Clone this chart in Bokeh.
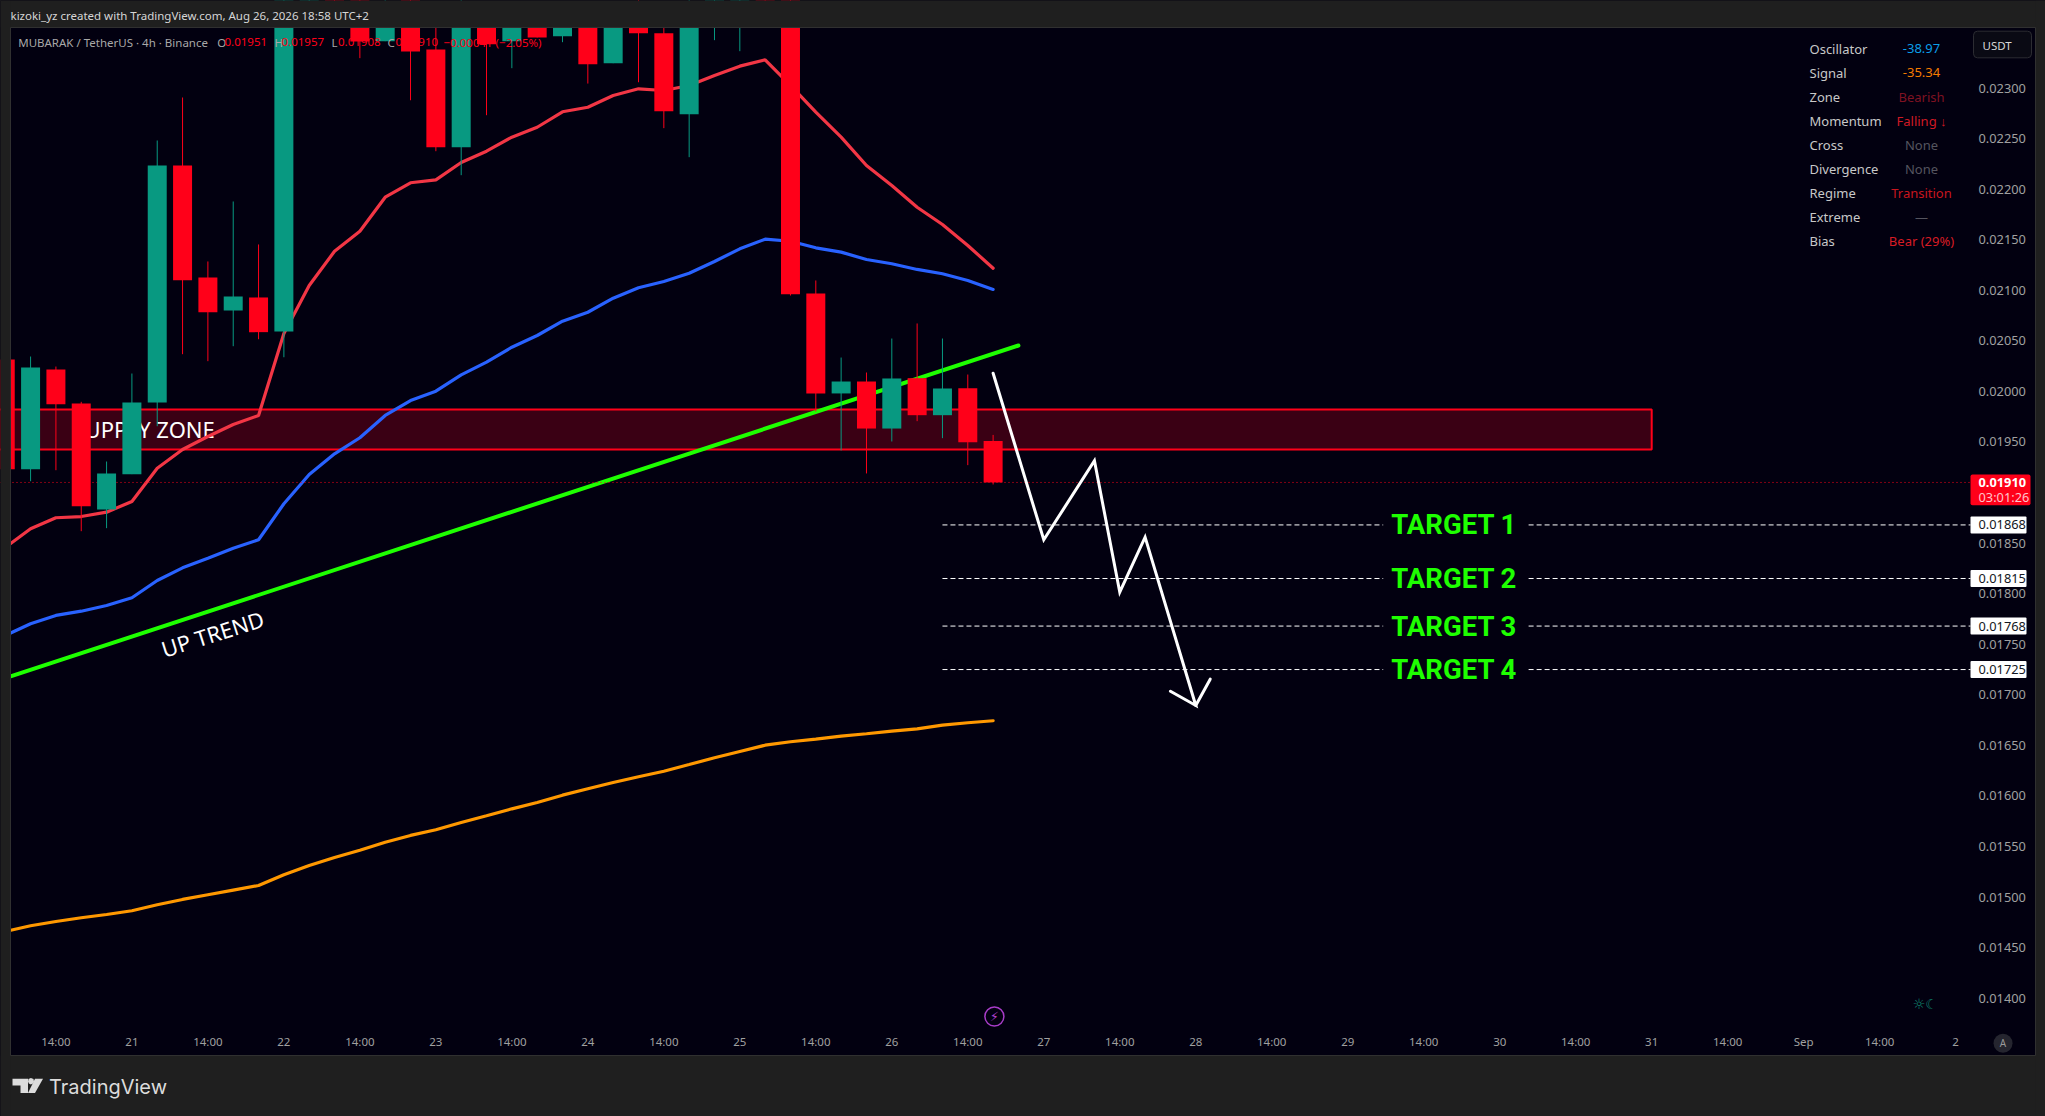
from bokeh.plotting import figure
from bokeh.embed import file_html
from bokeh.resources import INLINE
from bokeh.models import Label, BoxAnnotation, PolyAnnotation, FixedTicker, NumeralTickFormatter, Range1d
from bokeh.core.properties import value

# ---- data (prices; bar index 0 = Aug 21, 6 bars per day) ----
bar_idx = list(range(-5, 35))
opens = [0.020316,0.019231,0.020217,0.019881,0.018833,0.019182,0.019891,0.022234,0.021126,0.020800,
         0.020929,0.020593,0.024000,0.024400,0.024000,0.023463,0.023900,0.023381,0.022415,0.023750,
         0.023463,0.023750,0.023512,0.023720,0.023245,0.023800,0.023542,0.022741,0.023900,0.023950,
         0.024250,0.024000,0.020968,0.019980,0.020098,0.019633,0.020131,0.019765,0.020032,0.019510]
highs = [0.020350,0.020345,0.020246,0.019897,0.019307,0.020177,0.022481,0.022906,0.021285,0.021878,
         0.021453,0.024150,0.024500,0.024500,0.024200,0.024000,0.024000,0.023700,0.023900,0.023850,
         0.023850,0.023850,0.023800,0.023800,0.023850,0.023900,0.023750,0.023950,0.024200,0.024300,
         0.024350,0.024100,0.021097,0.020335,0.020187,0.020523,0.020672,0.020523,0.020167,0.019570]
lows = [0.019200,0.019112,0.019221,0.018618,0.018648,0.019182,0.019656,0.020368,0.020299,0.020447,
        0.020516,0.020338,0.023800,0.023850,0.023295,0.023463,0.022879,0.022375,0.022138,0.022731,
        0.023196,0.023499,0.023453,0.023044,0.023245,0.023057,0.022603,0.022316,0.023473,0.023364,
        0.023800,0.020948,0.019802,0.019416,0.019189,0.019505,0.019706,0.019538,0.019271,0.019080]
closes = [0.019231,0.020237,0.019874,0.018865,0.019189,0.019891,0.022234,0.021100,0.020783,0.020939,
          0.020586,0.024000,0.024400,0.024000,0.023460,0.023850,0.023361,0.022415,0.023800,0.023433,
          0.023750,0.023499,0.023720,0.023235,0.023750,0.023542,0.022771,0.023850,0.024100,0.024200,
          0.024000,0.020961,0.019980,0.020098,0.019633,0.020128,0.019765,0.020029,0.019498,0.019100]

ma_x = list(range(-5, 35))
ma_red = [0.018457,0.018642,0.018751,0.018763,0.018806,0.018912,0.019241,0.019426,0.019554,0.019673,
          0.019762,0.020573,0.021047,0.021386,0.021584,0.021920,0.022063,0.022092,0.022263,0.022375,
          0.022514,0.022612,0.022765,0.022810,0.022926,0.022992,0.022975,0.023025,0.023124,0.023216,
          0.023279,0.023025,0.022761,0.022514,0.022234,0.022036,0.021821,0.021650,0.021443,0.021218]
ma_blue = [0.017587,0.017703,0.017785,0.017827,0.017883,0.017960,0.018131,0.018256,0.018351,0.018450,
           0.018533,0.018889,0.019179,0.019383,0.019542,0.019762,0.019910,0.020002,0.020164,0.020289,
           0.020437,0.020553,0.020694,0.020783,0.020922,0.021025,0.021087,0.021169,0.021285,0.021410,
           0.021505,0.021485,0.021420,0.021377,0.021304,0.021262,0.021206,0.021163,0.021097,0.021008]
ma_orange = [0.014660,0.014717,0.014759,0.014796,0.014828,0.014865,0.014924,0.014977,0.015023,0.015069,
             0.015115,0.015221,0.015313,0.015392,0.015464,0.015543,0.015610,0.015666,0.015738,0.015804,
             0.015873,0.015936,0.016008,0.016071,0.016133,0.016190,0.016245,0.016311,0.016378,0.016440,
             0.016502,0.016536,0.016562,0.016591,0.016615,0.016641,0.016664,0.016700,0.016724,0.016744]

trend_x = [-4.79, 35.0]
trend_y = [0.017182, 0.020454]
zone_x = [-6, 60]
zone_top, zone_bottom = 0.019821, 0.019426
zig_x = [34, 36, 38, 39, 40, 42, 41]
zig_y = [0.020180,0.018533,0.019314,0.018015,0.018559,0.016895,0.017036]
wing_x = [42, 42.57]
wing_y = [0.016895, 0.017155]
targets = [0.01868, 0.01815, 0.01768, 0.01725]
target_names = ["TARGET 1", "TARGET 2", "TARGET 3", "TARGET 4"]
target_tags = ["0.01868", "0.01815", "0.01768", "0.01725"]
last_price = 0.01910

y_ticks = [0.014 + 0.0005 * k for k in range(19)]
x_ticks = [-3,0,3,6,9,12,15,18,21,24,27,30,33,36,39,42,45,48,51,54,57,60,63,66,69,72]
x_labels = ["14:00","21","14:00","22","14:00","23","14:00","24","14:00","25","14:00","26","14:00","27","14:00",
            "28","14:00","29","14:00","30","14:00","31","14:00","Sep","14:00","2"]

table_names = ["Oscillator","Signal","Zone","Momentum","Cross","Divergence","Regime","Extreme","Bias"]
table_vals = ["-38.97","-35.34","Bearish","Falling ↓","None","None","Transition","—","Bear (29%)"]
table_cols = ["#0a9ee8","#f57c00","#7f1222","#d01a24","#55555f","#55555f","#c8161e","#55555f","#d81c24"]

# ---- style ----
BG = "#020010"; OUT = "#1f1f1f"; RED = "#ff0019"; TEAL = "#089981"
FONT = "Noto Sans"
W, H = 2045, 1116
CL, CR, CT, CB = 10, 2035, 27, 1055     # chart panel edges on the page
PX_BAR = 25.33; X0 = 131.4
PX_PRICE = 101140.0; Y0 = 87.5

x_start = (0 - X0) / PX_BAR; x_end = (W - X0) / PX_BAR
y_end = 0.023 + (Y0 - 0) / PX_PRICE; y_start = 0.023 - (H - Y0) / PX_PRICE

p = figure(width=W, height=H, output_backend="svg", toolbar_location=None,
           x_range=Range1d(x_start, x_end), y_range=Range1d(y_start, y_end),
           y_axis_location="right", background_fill_color=BG, border_fill_color=OUT,
           min_border_left=0, min_border_right=0, min_border_top=0, min_border_bottom=0,
           outline_line_color=None)
p.grid.visible = False

ya = p.yaxis[0]
ya.fixed_location = (1970 - X0) / PX_BAR
ya.ticker = FixedTicker(ticks=y_ticks)
ya.formatter = NumeralTickFormatter(format="0.00000")
ya.major_label_standoff = 2
xa = p.xaxis[0]
xa.fixed_location = 0.023 - (1024 - Y0) / PX_PRICE
xa.ticker = FixedTicker(ticks=x_ticks)
xa.major_label_overrides = dict(zip(x_ticks, x_labels))
xa.major_label_standoff = 3
for a in (ya, xa):
    a.axis_line_color = None
    a.major_tick_line_color = None
    a.minor_tick_line_color = None
    a.major_label_text_color = "#a0a0a0"
    a.major_label_text_font = FONT
ya.major_label_text_font_size = "12.8px"
xa.major_label_text_font_size = "11.5px"

# zone + its text sit under the candles
p.quad(left=[zone_x[0]], right=[zone_x[1]], top=[zone_top], bottom=[zone_bottom],
       fill_color="#3a0014", line_color=RED, line_width=2)
p.text(x=[(72 - X0) / PX_BAR], y=[(zone_top + zone_bottom) / 2], text=["SUPPLY ZONE"], text_color="white",
       text_font=value(FONT), text_font_size="22px", text_baseline="middle")

p.line(ma_x, ma_orange, line_color="#ff9800", line_width=3.2, line_cap="round")
p.line(ma_x, ma_blue, line_color="#2962ff", line_width=3.2, line_cap="round")
p.line(ma_x, ma_red, line_color="#f23645", line_width=3.2, line_cap="round")
p.line(trend_x, trend_y, line_color="#1eff00", line_width=4, line_cap="round")

p.line([x_start, (1970 - X0) / PX_BAR], [last_price, last_price], line_color=RED, line_width=1, line_dash="1 3")

up = [c >= o for o, c in zip(opens, closes)]
cols = [TEAL if u else RED for u in up]
p.segment(bar_idx, lows, bar_idx, highs, line_color=cols, line_width=1)
p.vbar(x=bar_idx, top=[max(o, c) for o, c in zip(opens, closes)], bottom=[min(o, c) for o, c in zip(opens, closes)],
       width=0.75, fill_color=cols, line_color=None)

# target levels
for lvl, name in zip(targets, target_names):
    p.line([32.0, 49.4], [lvl, lvl], line_color="white", line_width=1, line_dash="5 3")
    p.line([55.14, (1970 - X0) / PX_BAR], [lvl, lvl], line_color="white", line_width=1, line_dash="5 3")
    p.text(x=[52.2], y=[lvl], text=[name], text_color="#1eff00", text_font=value("Roboto"), text_font_style="bold",
           text_font_size="27.5px", text_align="center", text_baseline="middle")

# forecast arrow
p.line(zig_x, zig_y, line_color="white", line_width=3, line_cap="round", line_join="miter")
p.line(wing_x, wing_y, line_color="white", line_width=3, line_cap="round")

p.text(x=[3.18], y=[0.017607], text=["UP TREND"], angle=[0.305], text_color="white", text_font=value(FONT),
       text_font_size="22px", text_align="center", text_baseline="middle")

# small icons
p.scatter(x=[34.05], y=[0.01382], size=19, marker="circle", fill_color=None, line_color="#a83cc8", line_width=1.5)
p.text(x=[34.05], y=[0.01382], text=["⚡"], text_color="#b040d0", text_font=value("DejaVu Sans"), text_font_size="13px",
       text_align="center", text_baseline="middle")
p.text(x=[70.8], y=[0.01394], text=["☼☾"], text_color="#0f8a72", text_font=value("DejaVu Sans"), text_font_size="14px",
       text_align="center", text_baseline="middle")
p.scatter(x=[73.87], y=[0.013556], size=19, marker="circle", fill_color="#25252f", line_color=None)
p.text(x=[73.87], y=[0.013556], text=["A"], text_color="#9a9a9a", text_font=value(FONT), text_font_size="10px",
       text_align="center", text_baseline="middle")

def lab(px, py, txt, col, size, align="left", style="normal", font=FONT):
    p.add_layout(Label(x=px, y=H - py, x_units="screen", y_units="screen", text=txt, text_color=col,
                       text_font_size=f"{size}px", text_align=align, text_baseline="middle", text_font=font,
                       text_font_style=style))

def box(x1, x2, y1, y2, fill, line=None, radius=0):
    p.add_layout(BoxAnnotation(left=x1, right=x2, top=H - y1, bottom=H - y2,
                               left_units="screen", right_units="screen", top_units="screen", bottom_units="screen",
                               fill_color=fill, fill_alpha=1 if fill else 0, line_color=line, line_alpha=1 if line else 0,
                               border_radius=radius))

def poly(pts, fill):
    p.add_layout(PolyAnnotation(xs=[a for a, _ in pts], ys=[H - b for _, b in pts], xs_units="screen", ys_units="screen",
                                fill_color=fill, fill_alpha=1, line_color=None))

# outer page band round the chart panel (masks candles that run off the panel)
box(0, W, 0, CT, OUT)
box(0, W, CB, H, OUT)
box(0, CL, 0, H, OUT)
box(CR, W, 0, H, OUT)
box(CL, CR, CT, CB, None, "#303030")

# page header + symbol legend
lab(10, 15, "kizoki_yz created with TradingView.com, Aug 26, 2026 18:58 UTC+2", "#d6d6d6", 11.5)
lab(17.7, 41.7, "MUBARAK / TetherUS · 4h · Binance", "#a8a8a8", 11.5)
for x, k, v, vx in [(216.7, "O", "0.01951", 224), (274, "H", "0.01957", 281), (331, "L", "0.01908", 337.5), (387, "C", "0.01910", 395)]:
    lab(x, 41.7, k, "#a8a8a8", 11.5)
    lab(vx, 41.7, v, RED, 11.5)
lab(443, 41.7, "−0.00041 (−2.05%)", RED, 11.5)

# indicator table
for k, (n, v, c) in enumerate(zip(table_names, table_vals, table_cols)):
    yy = 48.3 + 24 * k
    lab(1809, yy, n, "#c8c8c8", 13)
    lab(1921, yy, v, c, 13, align="center")

# currency button
box(1973, 2031, 30.7, 57.3, "#0a0a14", "#2c2c32", 4)
lab(1982, 44.7, "USDT", "#d8d8d8", 11.5)

# price tags on top of the scale
box(1970, 2030, 474, 504.7, RED, None, 2)
lab(1978, 482, "0.01910", "white", 12.8, style="bold")
lab(1978, 496, "03:01:26", "#ffc4cc", 12.8)
for lvl, t in zip(targets, target_tags):
    yy = Y0 + (0.023 - lvl) * PX_PRICE
    box(1970, 2026, yy - 8.5, yy + 8.5, "white", None, 1)
    lab(1978, yy, t, "#131722", 12.8)

# TradingView logo
poly([(12, 1078.3), (27.5, 1078.3), (27.5, 1092.5), (20, 1092.5), (20, 1085), (12, 1085)], "#dcdcdc")
poly([(30.4, 1077.5), (33, 1078.6), (33.5, 1081), (32.5, 1083), (30.4, 1084), (28.3, 1083), (27.6, 1081), (28, 1078.6)], "#dcdcdc")
poly([(34.5, 1078.3), (42.5, 1078.3), (34.5, 1092.5), (27.5, 1092.5)], "#dcdcdc")
lab(48.5, 1086, "TradingView", "#dcdcdc", 20, font="Inter")

html = file_html(p, INLINE)
html = html.replace("<head>", "<head><style>html,body{margin:0;padding:0;background:#1f1f1f;overflow:hidden}</style>", 1)
open("out.html", "w").write(html)
